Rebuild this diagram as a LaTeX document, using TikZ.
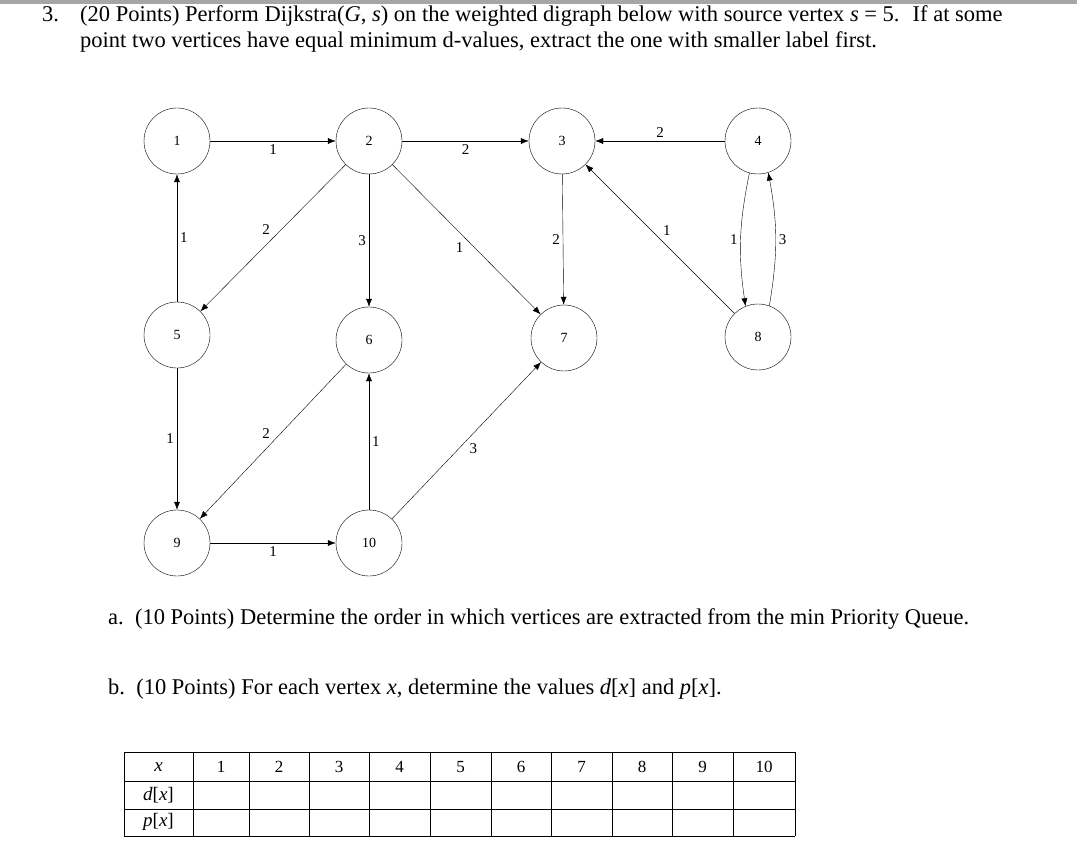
\documentclass[tikz,border=0pt]{standalone}
\usepackage{fontspec}
\setmainfont{Liberation Serif}
\usetikzlibrary{arrows.meta}
\newcommand{\vi}[1]{\textit{#1}}
\begin{document}
\begin{tikzpicture}[x=1pt,y=-1pt,
  v/.style={draw,circle,minimum size=66pt,inner sep=0pt,font=\fontsize{14}{16}\selectfont},
  e/.style={draw,-{Latex[length=8pt,width=6pt]}},
  w/.style={font=\fontsize{15}{17}\selectfont,inner sep=3pt},
  txt/.style={anchor=base west,inner sep=0pt,font=\fontsize{22.5}{26}\selectfont}]
\useasboundingbox (0,0) rectangle (1077,848);
\fill[gray!70] (0,0) rectangle (1077,4);
\node[txt] (t1) at (42,22) {3.};
\node[txt] (t2) at (80,22) {(20 Points) Perform Dijkstra(\vi{G}, \vi{s}) on the weighted digraph below with source vertex \vi{s} = 5. \ If at some};
\node[txt] (t3) at (80,48) {point two vertices have equal minimum d-values, extract the one with smaller label first.};
\node[v] (n1) at (177,141) {1};
\node[v] (n2) at (369,141) {2};
\node[v] (n3) at (562,141) {3};
\node[v] (n4) at (758,141) {4};
\node[v] (n5) at (177,335) {5};
\node[v] (n6) at (369,340) {6};
\node[v] (n7) at (564,338) {7};
\node[v] (n8) at (758,337) {8};
\node[v] (n9) at (177,543) {9};
\node[v] (n10) at (369,543) {10};
\path[e] (n1) -- node[w,below] {1} (n2);
\path[e] (n2) -- node[w,below] {2} (n3);
\path[e] (n4) -- node[w,above] {2} (n3);
\path[e] (n5) -- node[w,right] {1} (n1);
\path[e] (n2) -- node[w,above left] {2} (n5);
\path[e] (n2) -- node[w,left] {3} (n6);
\path[e] (n2) -- node[w,below left] {1} (n7);
\path[e] (n3) -- node[w,left] {2} (n7);
\path[e] (n8) -- node[w,above right] {1} (n3);
\path[e] (n4.-105) to[bend right=10] node[w,left] {1} (n8.112);
\path[e] (n8.70) to[bend right=10] node[w,right] {3} (n4.-72);
\path[e] (n5) -- node[w,left] {1} (n9);
\path[e] (n6) -- node[w,above left] {2} (n9);
\path[e] (n10) -- node[w,right] {1} (n6);
\path[e] (n10) -- node[w,below right] {3} (n7);
\path[e] (n9) -- node[w,below] {1} (n10);
\node[txt] (a1) at (108,624) {a.\ \ (10 Points) Determine the order in which vertices are extracted from the min Priority Queue.};
\node[txt] (b1) at (108,694) {b.\ \ (10 Points) For each vertex \vi{x}, determine the values \vi{d}[\vi{x}] and \vi{p}[\vi{x}].};
% table
\foreach \X in {124,193,249,309,369,430,491,551,612,672,733,795} \draw (\X,752) -- (\X,836);
\foreach \Y in {752,781,809,836} \draw (124,\Y) -- (795,\Y);
\node[font=\fontsize{19}{22}\selectfont] (h0) at (158.5,767) {\vi{x}};
\node[font=\fontsize{19}{22}\selectfont] (h1) at (158.5,795) {\vi{d}[\vi{x}]};
\node[font=\fontsize{19}{22}\selectfont] (h2) at (158.5,822) {\vi{p}[\vi{x}]};
\foreach \a/\b/\l in {193/249/1,249/309/2,309/369/3,369/430/4,430/491/5,491/551/6,551/612/7,612/672/8,672/733/9,733/795/10}
  \node[font=\fontsize{17}{20}\selectfont] at ({(\a+\b)/2},767) {\l};
\end{tikzpicture}
\end{document}
